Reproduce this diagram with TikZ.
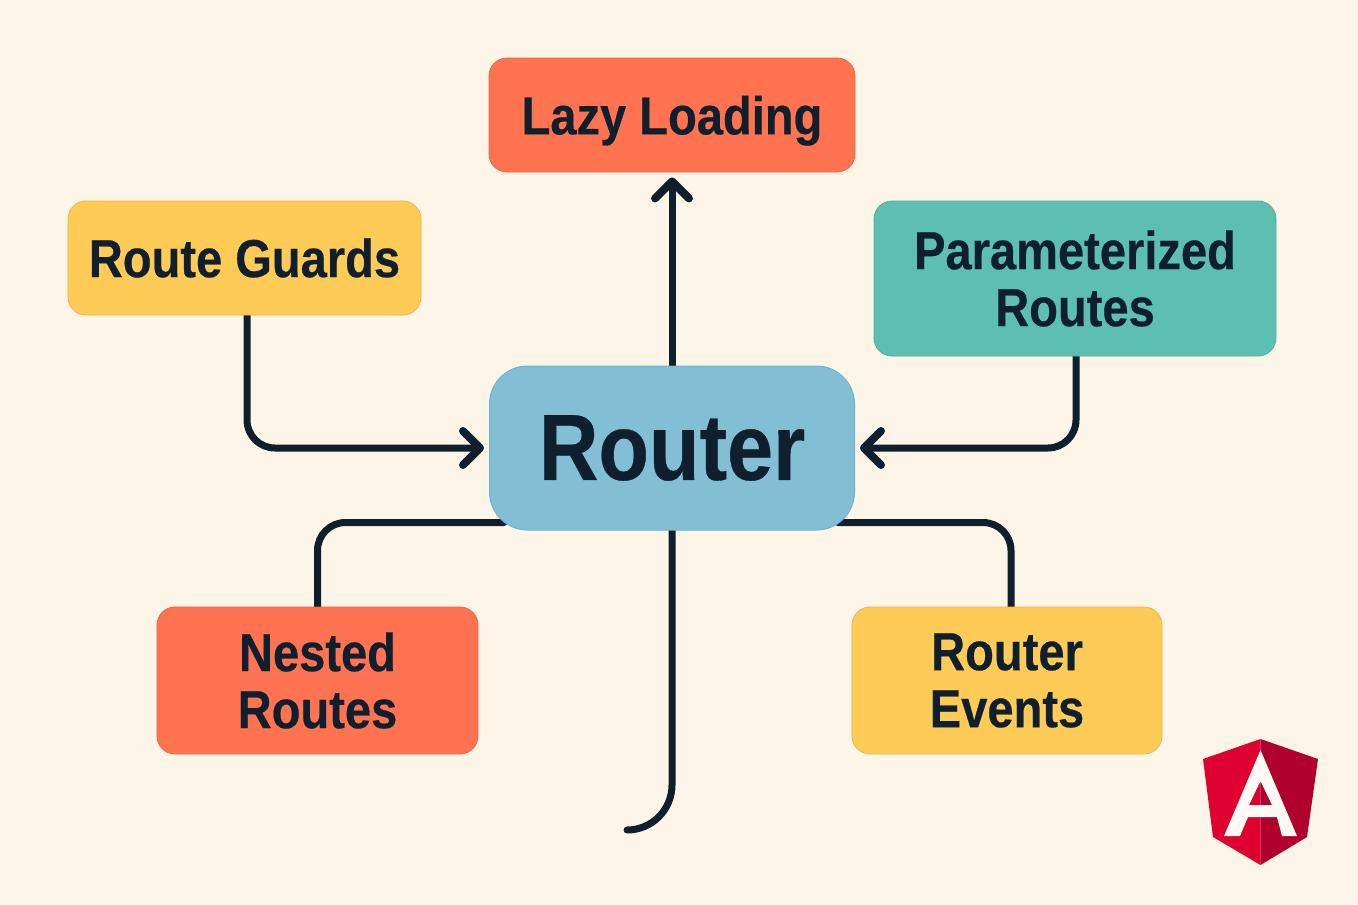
\documentclass[tikz,border=0pt]{standalone}
\usepackage{fontspec}
\usepackage{xcolor}
\usetikzlibrary{arrows.meta,backgrounds}
\setsansfont[FakeStretch=0.88,FakeBold=0.4]{Liberation Sans}
\definecolor{cream}{HTML}{FDF5E7}
\definecolor{ink}{HTML}{0F1F2D}
\definecolor{coral}{HTML}{FF7350}
\definecolor{sun}{HTML}{FFCB57}
\definecolor{teal}{HTML}{5CBFB2}
\definecolor{sky}{HTML}{82BFD5}
\definecolor{skyline}{HTML}{6DB4CE}
\definecolor{ngred}{HTML}{DD0031}
\definecolor{ngdark}{HTML}{B0012D}

\begin{document}
\begin{tikzpicture}[x=1pt,y=-1pt,>={Straight Barb[length=17pt,width=34pt,line width=8pt,round]},thick,
    main node/.style={rectangle,rounded corners=18pt,inner sep=0pt,align=center,text=ink,font=\sffamily\bfseries\fontsize{53.5}{57}\selectfont},
    router node/.style={main node,rounded corners=38pt,fill=sky,draw=skyline,line width=1pt,minimum width=365pt,minimum height=164pt,font=\sffamily\bfseries\fontsize{94}{94}\selectfont},
    link/.style={draw=ink,line width=7pt,line cap=round}]
    \useasboundingbox (0,0) rectangle (1358,905);

    \node[router node] (router) at (672,448) {Router};

    \node[main node,fill=coral,draw=coral!90!black,minimum width=366pt,minimum height=114pt,node distance=333pt,text depth=0pt] (lazy) [above of = router] {Lazy Loading};
    \node[main node,fill=sun,draw=sun!90!black,minimum width=353pt,minimum height=114pt,node distance=427.5pt] (guards) [left of = router, yshift=190pt] {Route Guards};
    \node[main node,fill=teal,draw=teal!90!black,minimum width=402pt,minimum height=155pt,node distance=403pt] (param) [right of = router, yshift=169.5pt] {Parameterized\\Routes};
    \node[main node,fill=coral,draw=coral!90!black,minimum width=321pt,minimum height=147pt,node distance=354.5pt] (nested) [left of = router, yshift=-232.5pt] {Nested\\Routes};
    \node[main node,fill=sun,draw=sun!90!black,minimum width=310pt,minimum height=147pt,node distance=335pt] (events) [right of = router, yshift=-232.5pt] {Router\\Events};

    \coordinate (tail) at (627,830);

    % connectors go under the boxes
    \begin{scope}[on background layer]
        \fill[cream] (0,0) rectangle (1358,905);
        \path[link,->] (router.north) -- ([yshift=-5pt]lazy.south);
        \path[link,->,rounded corners=28pt] ([xshift=2.5pt]guards.south) |- ([xshift=-5pt]router.west);
        \path[link,->,rounded corners=28pt] ([xshift=1pt]param.south) |- ([xshift=5pt]router.east);
        \path[link,rounded corners=28pt] ([xshift=15pt,yshift=8pt]router.south west) -| (nested.north);
        \path[link,rounded corners=28pt] ([xshift=-17pt,yshift=8pt]router.south east) -| ([xshift=4pt]events.north);
        \path[link,rounded corners=45pt] (router.south) |- (tail);
    \end{scope}

    % shield
    \fill[ngred] (1260.5,739) -- (1203,759) -- (1213,837) -- (1260.5,865) -- cycle;
    \fill[ngdark] (1260.5,739) -- (1318,759) -- (1307,837) -- (1260.5,865) -- cycle;
    \fill[white!60!cream,even odd rule] (1260.5,750) -- (1224,836) -- (1240,836) -- (1248,817) -- (1277,817) -- (1282,836) -- (1297,836) -- cycle
        (1260.5,781) -- (1249,805) -- (1272,805) -- cycle;
\end{tikzpicture}
\end{document}
